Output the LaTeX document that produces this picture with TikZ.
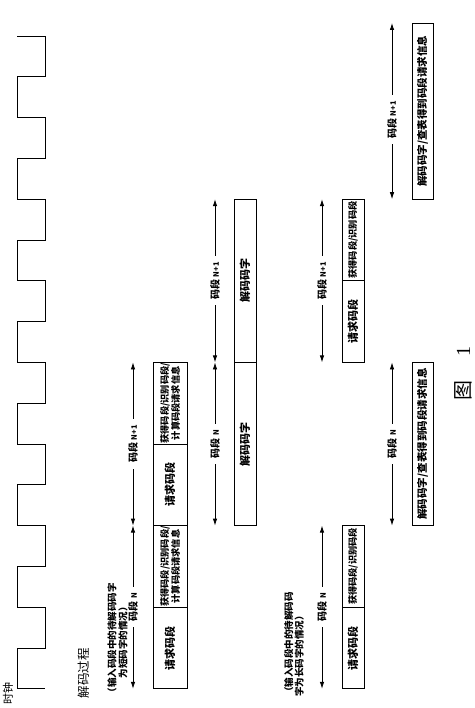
\documentclass[tikz,border=0pt]{standalone}
\usepackage{fontspec}
\setmainfont{Noto Sans CJK SC}
\newfontfamily\numfont{Liberation Serif}
\usetikzlibrary{arrows.meta}
\newcommand\segtag[1]{{\fontsize{7.5pt}{7.5pt}\selectfont #1}}
\begin{document}
\begin{tikzpicture}[x=1pt,y=-1pt,
  wave/.style={line width=0.75pt, line join=miter},
  box/.style={draw, line width=0.8pt, rotate=90, inner sep=0pt, align=center, font=\fontsize{11pt}{12pt}\selectfont\bfseries},
  twoline/.style={font=\fontsize{9.2pt}{11pt}\selectfont\bfseries},
  dim/.style={line width=0.8pt, {Latex[length=7pt,width=4.5pt]}-{Latex[length=7pt,width=4.5pt]}},
  lbl/.style={fill=white, rotate=90, inner xsep=6pt, inner ysep=0.5pt, font=\fontsize{10pt}{10pt}\selectfont\bfseries},
  txt/.style={rotate=90, inner sep=0pt}
]
\useasboundingbox (0,0) rectangle (474,708);

% clock waveform
\draw[wave] (17,36) -- (45,36) -- (45,76.8) -- (17,76.8) -- (17,117.6) -- (45,117.6) -- (45,158.4) -- (17,158.4) -- (17,199.2) -- (45,199.2) -- (45,240) -- (17,240) -- (17,280.8) -- (45,280.8) -- (45,321.6) -- (17,321.6) -- (17,362.4) -- (45,362.4) -- (45,403.2) -- (17,403.2) -- (17,444) -- (45,444) -- (45,484.8) -- (17,484.8) -- (17,525.6) -- (45,525.6) -- (45,566.4) -- (17,566.4) -- (17,607.2) -- (45,607.2) -- (45,648) -- (17,648) -- (17,688.8) -- (45,688.8);
\node[txt, font=\fontsize{11pt}{11pt}\selectfont] (clk) at (8,693) {时钟};

% titles
\node[txt, font=\fontsize{12.5pt}{12.5pt}\selectfont] (title) at (84,673) {解码过程};
\node[txt, align=center, font=\fontsize{9.5pt}{11pt}\selectfont\bfseries] (caseA) at (117.5,640) {（输入码段中的待解码码字\\为短码字的情况）};
\node[txt, anchor=west, align=left, font=\fontsize{9.5pt}{10.5pt}\selectfont\bfseries] (caseB) at (294,697) {（输入码段中的待解码码\\字为长码字的情况）};
\node[txt, font=\fontsize{20pt}{20pt}\selectfont] (fig) at (463,373) {图\hspace{24pt}{\numfont 1}};

% upper case: boxes
\node[box, minimum width=81.6pt, minimum height=34pt] (A1) at (170,648) {请求码段};
\node[box, twoline, minimum width=81.6pt, minimum height=34pt] (A2) at (170,566.4) {获得码段/识别码段/\\计算码段请求信息};
\node[box, minimum width=81.6pt, minimum height=34pt] (A3) at (170,484.8) {请求码段};
\node[box, twoline, minimum width=81.6pt, minimum height=34pt] (A4) at (170,403.2) {获得码段/识别码段/\\计算码段请求信息};
\node[box, minimum width=163.2pt, minimum height=22pt] (B1) at (245,444) {解码码字};
\node[box, minimum width=163.2pt, minimum height=22pt] (B2) at (245,280.8) {解码码字};

% lower case: boxes
\node[box, minimum width=81.6pt, minimum height=22pt] (C1) at (353,648) {请求码段};
\node[box, twoline, minimum width=81.6pt, minimum height=22pt] (C2) at (353,566.4) {获得码段/识别码段};
\node[box, minimum width=81.6pt, minimum height=22pt] (C3) at (353,321.6) {请求码段};
\node[box, twoline, minimum width=81.6pt, minimum height=22pt] (C4) at (353,240) {获得码段/识别码段};
\node[box, font=\fontsize{10.5pt}{12pt}\selectfont\bfseries, minimum width=163.2pt, minimum height=21pt] (D1) at (422.5,444) {解码码字/查表得到码段请求信息};
\node[box, font=\fontsize{10.5pt}{12pt}\selectfont\bfseries, minimum width=176.2pt, minimum height=21pt] (D2) at (422.5,111.1) {解码码字/查表得到码段请求信息};

% arrow end points
\coordinate (a0) at (133,688.8);
\coordinate (a1) at (133,525.6);
\coordinate (a2) at (133,362.4);
\coordinate (b0) at (215,525.6);
\coordinate (b1) at (215,362.4);
\coordinate (b2) at (215,199.2);
\coordinate (c0) at (322,688.8);
\coordinate (c1) at (322,525.6);
\coordinate (c2) at (322,362.4);
\coordinate (c3) at (322,199.2);
\coordinate (d0) at (392,525.6);
\coordinate (d1) at (392,362.4);
\coordinate (d2) at (392,199.2);
\coordinate (d3) at (392,23);

% segment arrows
\draw[dim] (a0) -- node[lbl] (la0) {码段 \segtag{N}} (a1);
\draw[dim] (a1) -- node[lbl] (la1) {码段 \segtag{N+1}} (a2);
\draw[dim] (b0) -- node[lbl] (lb0) {码段 \segtag{N}} (b1);
\draw[dim] (b1) -- node[lbl] (lb1) {码段 \segtag{N+1}} (b2);
\draw[dim] (c0) -- node[lbl] (lc0) {码段 \segtag{N}} (c1);
\draw[dim] (c2) -- node[lbl] (lc1) {码段 \segtag{N+1}} (c3);
\draw[dim] (d0) -- node[lbl] (ld0) {码段 \segtag{N}} (d1);
\draw[dim] (d2) -- node[lbl, pos=0.45] (ld1) {码段 \segtag{N+1}} (d3);
\end{tikzpicture}
\end{document}
